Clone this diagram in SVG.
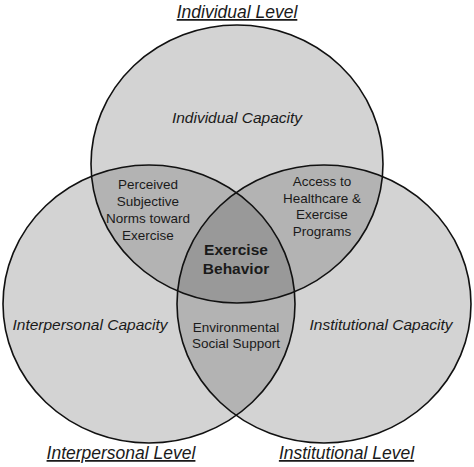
<svg xmlns="http://www.w3.org/2000/svg" width="474" height="467" viewBox="0 0 474 467">
<style>
.c{fill:#d3d3d3}
.p{fill:#b3b3b3}
.t{fill:#999999}
.o{fill:none;stroke:#111;stroke-width:1.6}
text{font-family:"Liberation Sans",Arial,sans-serif;fill:#1a1a1a;text-anchor:middle}
.lvl{font-size:17.5px;font-style:italic;text-decoration:underline}
.cap{font-size:15.5px;font-style:italic}
.s{font-size:13.5px}
.b{font-size:15.5px;font-weight:bold}
</style>
<defs>
<ellipse id="eT" cx="237" cy="164" rx="146" ry="139"/>
<ellipse id="eL" cx="149" cy="304" rx="146" ry="139"/>
<ellipse id="eR" cx="324" cy="304" rx="147" ry="139"/>
<clipPath id="cT"><use href="#eT"/></clipPath>
<clipPath id="cL"><use href="#eL"/></clipPath>
<clipPath id="cR"><use href="#eR"/></clipPath>
</defs>
<rect width="474" height="467" fill="#fff"/>
<g id="fills">
<use href="#eT" class="c"/>
<use href="#eL" class="c"/>
<use href="#eR" class="c"/>
<g clip-path="url(#cT)"><use href="#eL" class="p"/><use href="#eR" class="p"/></g>
<g clip-path="url(#cL)"><use href="#eR" class="p"/></g>
<g clip-path="url(#cT)"><g clip-path="url(#cL)"><use href="#eR" class="t"/></g></g>
</g>
<g id="outlines">
<use href="#eT" class="o"/>
<use href="#eL" class="o"/>
<use href="#eR" class="o"/>
</g>
<g id="individual">
<text class="lvl" x="237" y="18">Individual Level</text>
<text class="cap" x="237" y="123">Individual Capacity</text>
</g>
<g id="interpersonal">
<text class="lvl" x="121" y="459">Interpersonal Level</text>
<text class="cap" x="90" y="330">Interpersonal Capacity</text>
</g>
<g id="institutional">
<text class="lvl" x="346.5" y="459">Institutional Level</text>
<text class="cap" x="381" y="330">Institutional Capacity</text>
</g>
<g id="norms">
<text class="s" x="148" y="189">Perceived</text>
<text class="s" x="148" y="206">Subjective</text>
<text class="s" x="148" y="223">Norms toward</text>
<text class="s" x="148" y="240">Exercise</text>
</g>
<g id="access">
<text class="s" x="322" y="186">Access to</text>
<text class="s" x="322" y="203">Healthcare &amp;</text>
<text class="s" x="322" y="219">Exercise</text>
<text class="s" x="322" y="236">Programs</text>
</g>
<g id="behavior">
<text class="b" x="236" y="255">Exercise</text>
<text class="b" x="236" y="274">Behavior</text>
</g>
<g id="support">
<text class="s" x="236" y="332">Environmental</text>
<text class="s" x="236" y="348">Social Support</text>
</g>
</svg>
